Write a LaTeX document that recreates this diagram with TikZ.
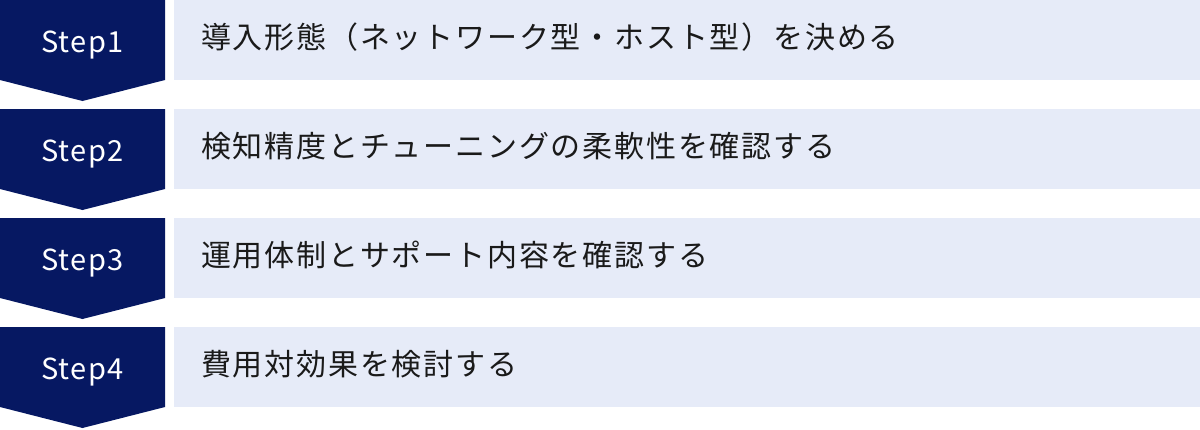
\documentclass[tikz,border=0pt]{standalone}
\usepackage{fontspec}
\setmainfont{Noto Sans CJK JP}
\newfontfamily\stepfont[LetterSpace=5]{Noto Sans CJK JP}
\newfontfamily\jpfont[LetterSpace=6]{Noto Sans CJK JP}
\definecolor{navy}{RGB}{6,24,98}
\definecolor{pale}{RGB}{230,235,248}
\definecolor{ink}{RGB}{26,26,26}
\tikzset{
  steplabel/.style={anchor=base, text=white, font=\stepfont\fontsize{29}{29}\selectfont, inner sep=0pt},
  boxtext/.style={anchor=base west, text=ink, font=\jpfont\fontsize{30}{30}\selectfont, inner sep=0pt}
}
\begin{document}
\begin{tikzpicture}[x=1pt, y=-1pt]
    \useasboundingbox (0,0) rectangle (1200,429);
    \foreach \i/\txt in {1/導入形態（ネットワーク型・ホスト型）を決める,
                         2/検知精度とチューニングの柔軟性を確認する,
                         3/運用体制とサポート内容を確認する,
                         4/費用対効果を検討する} {
      \pgfmathsetmacro{\ytop}{(\i-1)*109}
      \fill[navy] (0,\ytop) -- (165,\ytop) -- (165,\ytop+80) -- (82.5,\ytop+101) -- (0,\ytop+80) -- cycle;
      \node[steplabel] (s\i) at (82.5,\ytop+52.5) {Step\i};
      \fill[pale] (174,\ytop) rectangle (1200,\ytop+80);
      \node[boxtext] (t\i) at (201,\ytop+48) {\txt};
    }
  
  \end{tikzpicture}
\end{document}
